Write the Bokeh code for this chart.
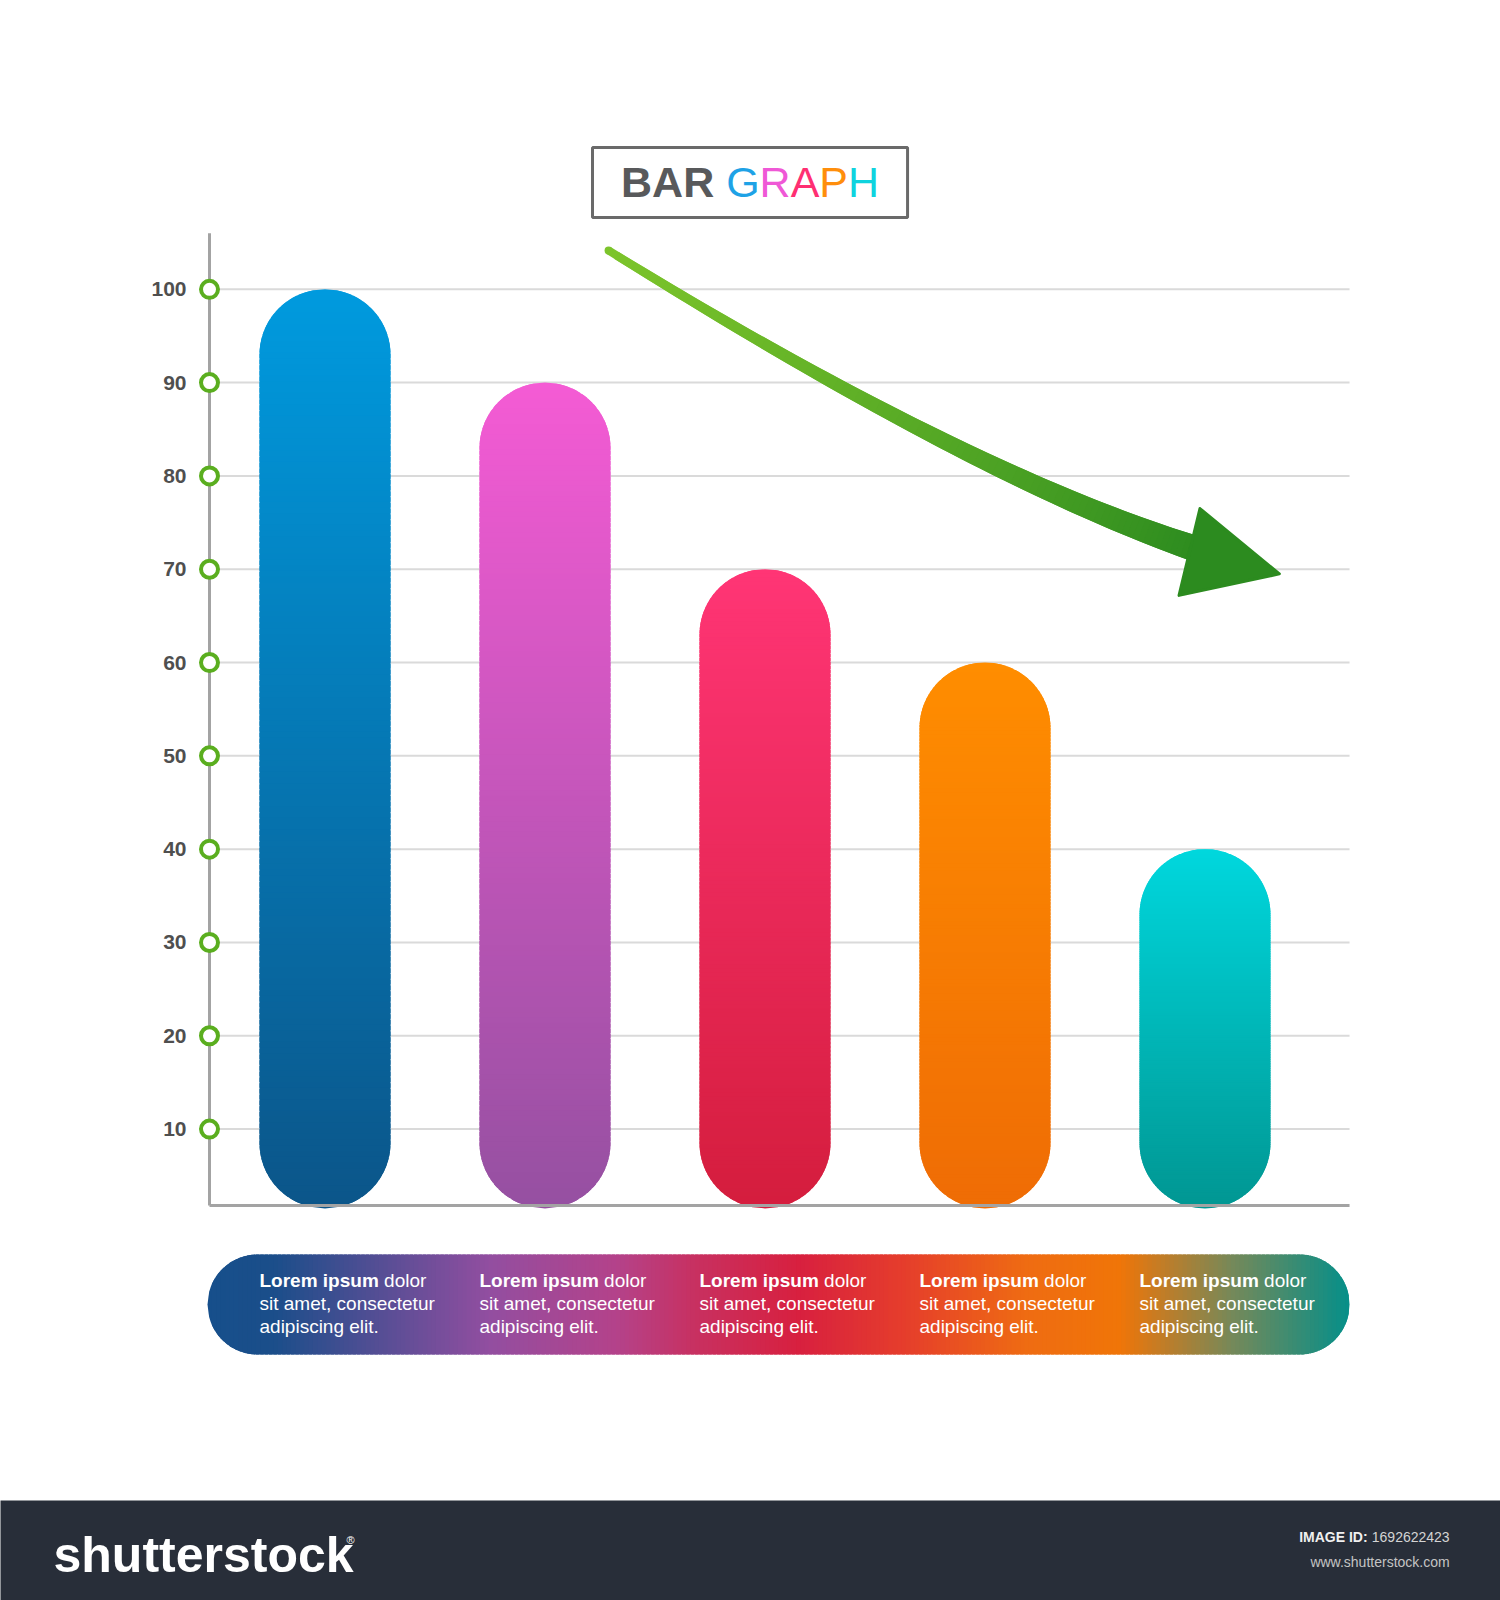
import numpy as np
from bokeh.plotting import figure
from bokeh.models import Range1d, ColumnDataSource
from bokeh.core.properties import value
from bokeh.embed import file_html
from bokeh.resources import INLINE

# ---------------- data ----------------
categories = ["Item 1", "Item 2", "Item 3", "Item 4", "Item 5"]
values = [100, 90, 70, 60, 40]
bar_top_colors = ["#009ade", "#f45bd4", "#ff3575", "#ff8d00", "#00d7dd"]
bar_bottom_colors = ["#0b5589", "#9550a1", "#d41d3d", "#ef6c05", "#019692"]
tick_values = [10, 20, 30, 40, 50, 60, 70, 80, 90, 100]
tick_labels = ["10", "20", "30", "40", "50", "60", "70", "80", "90", "100"]
title_bold = "BAR"
title_letters = ["G", "R", "A", "P", "H"]
title_letter_colors = ["#1ea2e6", "#ef58d6", "#ff2f72", "#ff8e0c", "#0fd3de"]
caption_bold = ["Lorem ipsum"] * 5
caption_rest = ["dolor"] * 5
caption_line2 = ["sit amet, consectetur"] * 5
caption_line3 = ["adipiscing elit."] * 5
footer_logo = "shutterstock"
footer_id_label = "IMAGE ID:"
footer_id = "1692622423"
footer_url = "www.shutterstock.com"

# ---------------- layout / scale ----------------
W, H = 1500, 1600
PX_X = 220.0          # pixels per category step
PX_Y = 9.331          # pixels per value unit
X0_PX = 324.5         # frame px of category 0
Y0_PX = 1221.9        # frame px (from top) of value 0

x_range = Range1d(-X0_PX / PX_X, (W - X0_PX) / PX_X)
y_range = Range1d((Y0_PX - H) / PX_Y, Y0_PX / PX_Y)

p = figure(width=W, height=H, x_range=x_range, y_range=y_range,
           output_backend="svg", toolbar_location=None,
           x_axis_type=None, y_axis_type=None, min_border=0,
           background_fill_color="white", border_fill_color="white",
           outline_line_color=None)
p.grid.visible = False

FONT = value("Liberation Sans")


def hex2rgb(h):
    h = h.lstrip("#")
    return np.array([int(h[i:i + 2], 16) for i in (0, 2, 4)], dtype=float)


def rgb2hex(c):
    c = np.clip(np.round(c), 0, 255).astype(int)
    return "#%02x%02x%02x" % tuple(c)


def mix(c0, c1, t):
    return rgb2hex(hex2rgb(c0) * (1 - t) + hex2rgb(c1) * t)


def multi_stop(stops, cols, t):
    for k in range(len(stops) - 1):
        if t <= stops[k + 1]:
            u = (t - stops[k]) / (stops[k + 1] - stops[k])
            return mix(cols[k], cols[k + 1], u)
    return cols[-1]


idx = np.arange(len(values), dtype=float)
AX_LEFT = -0.525
AX_RIGHT = 4.657
AXIS_Y = 1.8
BAR_BASE = 1.5
BAR_R_PX = 65.5
BAR_HW = BAR_R_PX / PX_X
BAR_RY = BAR_R_PX / PX_Y

# ---------------- gridlines ----------------
p.segment(x0=[AX_LEFT] * len(tick_values), x1=[AX_RIGHT] * len(tick_values),
          y0=tick_values, y1=tick_values, line_color="#dadada", line_width=2)

# ---------------- bars (vertical gradient pills) ----------------
bxs, bys, bcols = [], [], []
N = 160
for xc, v, ct, cb in zip(idx, values, bar_top_colors, bar_bottom_colors):
    y0, y1 = BAR_BASE, float(v)

    def hw(y):
        out = np.full_like(y, BAR_HW)
        top = y > y1 - BAR_RY
        bot = y < y0 + BAR_RY
        out[top] = BAR_HW * np.sqrt(np.clip(1 - ((y[top] - (y1 - BAR_RY)) / BAR_RY) ** 2, 0, 1))
        out[bot] = BAR_HW * np.sqrt(np.clip(1 - (((y0 + BAR_RY) - y[bot]) / BAR_RY) ** 2, 0, 1))
        return out

    edges = np.linspace(y0, y1, N + 1)
    step = edges[1] - edges[0]
    for k in range(N):
        a = edges[k]
        b = min(edges[k + 1] + 0.8 * step, y1)
        yy = np.linspace(a, b, 7)
        w = hw(yy)
        bxs.append(list(xc - w) + list((xc + w)[::-1]))
        bys.append(list(yy) + list(yy[::-1]))
        t = (0.5 * (a + b) - y0) / (y1 - y0)
        bcols.append(mix(cb, ct, t))
p.patches(xs=bxs, ys=bys, fill_color=bcols, line_color=None)

# axis lines
p.segment(x0=[AX_LEFT], x1=[AX_LEFT], y0=[AXIS_Y], y1=[106.0], line_color="#a3a3a3", line_width=3)
p.segment(x0=[AX_LEFT], x1=[AX_RIGHT], y0=[AXIS_Y], y1=[AXIS_Y], line_color="#a3a3a3", line_width=3)

# tick markers and labels
p.scatter(x=[AX_LEFT] * len(tick_values), y=tick_values, size=17, line_width=4,
          line_color="#5aae1f", fill_color="white")
p.text(x=[AX_LEFT] * len(tick_values), y=tick_values, text=tick_labels, x_offset=-23,
       text_align="right", text_baseline="middle", text_font=FONT,
       text_font_style="bold", text_font_size="21px", text_color="#4f4f4f")

# ---------------- title box ----------------
TB_L, TB_R, TB_B, TB_T = 1.216, 2.648, 107.7, 115.2
p.quad(left=[TB_L], right=[TB_R], bottom=[TB_B], top=[TB_T], fill_color="white",
       line_color="#6a6a6a", line_width=3)
TS = 43.0
bold_w = np.array([0.722, 0.722, 0.722]).sum() + 0.278
reg_w = [0.778, 0.722, 0.667, 0.667, 0.722]
total = (bold_w + sum(reg_w)) * TS
tcx = 0.5 * (TB_L + TB_R)
tcy = 0.5 * (TB_B + TB_T)
start = -total / 2
p.text(x=[tcx], y=[tcy], text=[title_bold], x_offset=start, text_align="left",
       text_baseline="middle", text_font=FONT, text_font_style="bold",
       text_font_size="43px", text_color="#58595b")
offs = start + bold_w * TS + np.concatenate([[0], np.cumsum(reg_w[:-1])]) * TS
tsrc = ColumnDataSource(dict(x=[tcx] * 5, y=[tcy] * 5, text=title_letters,
                             off=list(offs), col=title_letter_colors))
p.text(x="x", y="y", text="text", x_offset="off", text_color="col", source=tsrc,
       text_align="left", text_baseline="middle", text_font=FONT,
       text_font_size="43px")

# ---------------- trend arrow ----------------
A_P0 = (1.289, 104.16)
A_P1 = (2.939, 80.04)
A_P2 = (3.975, 72.05)
A_HEAD = [(3.977, 76.5), (4.338, 69.5), (3.882, 67.2)]
A_COL0, A_COL1 = "#7cc42b", "#2c8b1f"


def dpx(pt):
    return np.array([pt[0] * PX_X, -pt[1] * PX_Y])


P0, P1, P2 = dpx(A_P0), dpx(A_P1), dpx(A_P2)
NA = 90
ts = np.linspace(0, 1, NA + 1)
pts = np.array([(1 - t) ** 2 * P0 + 2 * (1 - t) * t * P1 + t ** 2 * P2 for t in ts])
der = np.array([2 * (1 - t) * (P1 - P0) + 2 * t * (P2 - P1) for t in ts])
nrm = np.stack([-der[:, 1], der[:, 0]], axis=1)
nrm /= np.linalg.norm(nrm, axis=1)[:, None]
wid = 8 + 18 * ts ** 1.2
L = pts + nrm * wid[:, None] / 2
R = pts - nrm * wid[:, None] / 2
axs, ays, acols = [], [], []
for k in range(NA):
    k2 = min(k + 2, NA)
    poly = [L[k], L[k2], R[k2], R[k]]
    axs.append([q[0] / PX_X for q in poly])
    ays.append([-q[1] / PX_Y for q in poly])
    acols.append(mix(A_COL0, A_COL1, ts[k]))
p.patches(xs=axs, ys=ays, fill_color=acols, line_color=None)
p.scatter(x=[A_P0[0]], y=[A_P0[1]], size=8, fill_color=A_COL0, line_color=None)
p.patch(x=[q[0] for q in A_HEAD], y=[q[1] for q in A_HEAD], fill_color=A_COL1,
        line_color=A_COL1, line_width=3, line_join="round")

# ---------------- caption band ----------------
BD_L, BD_R, BD_B, BD_T = -0.534, 4.657, -14.16, -3.44
band_stops = [0.0, 0.06, 0.25, 0.36, 0.43, 0.52, 0.61, 0.72, 0.80, 0.90, 1.0]
band_cols = ["#164f8b", "#1b4e8a", "#934ea0", "#b4428a", "#c83060", "#d8203f",
             "#e53d2c", "#ef6c12", "#f07508", "#74895a", "#068f89"]
ry = (BD_T - BD_B) / 2
rx = ry * PX_Y / PX_X
yc = (BD_T + BD_B) / 2


def bh(x):
    out = np.full_like(x, ry)
    lft = x < BD_L + rx
    rgt = x > BD_R - rx
    out[lft] = ry * np.sqrt(np.clip(1 - (((BD_L + rx) - x[lft]) / rx) ** 2, 0, 1))
    out[rgt] = ry * np.sqrt(np.clip(1 - ((x[rgt] - (BD_R - rx)) / rx) ** 2, 0, 1))
    return out


NB = 260
edges = np.linspace(BD_L, BD_R, NB + 1)
step = edges[1] - edges[0]
gxs, gys, gcols = [], [], []
for k in range(NB):
    a = edges[k]
    b = min(edges[k + 1] + 0.8 * step, BD_R)
    xx = np.linspace(a, b, 6)
    h = bh(xx)
    gxs.append(list(xx) + list(xx[::-1]))
    gys.append(list(yc - h) + list((yc + h)[::-1]))
    gcols.append(multi_stop(band_stops, band_cols, (0.5 * (a + b) - BD_L) / (BD_R - BD_L)))
p.patches(xs=gxs, ys=gys, fill_color=gcols, line_color=None)

CS = 19
cap_x = list(idx - BAR_HW)
line_y = [-6.23, -8.69, -11.15]
p.text(x=cap_x, y=[line_y[0]] * 5, text=caption_bold, text_font=FONT, text_font_style="bold",
       text_font_size="19px", text_color="white", text_baseline="middle", text_align="left")
p.text(x=cap_x, y=[line_y[0]] * 5, text=caption_rest, x_offset=(6.279 + 0.278) * CS,
       text_font=FONT, text_font_size="19px", text_color="white", text_baseline="middle",
       text_align="left")
p.text(x=cap_x, y=[line_y[1]] * 5, text=caption_line2, text_font=FONT,
       text_font_size="19px", text_color="white", text_baseline="middle", text_align="left")
p.text(x=cap_x, y=[line_y[2]] * 5, text=caption_line3, text_font=FONT,
       text_font_size="19px", text_color="white", text_baseline="middle", text_align="left")

# ---------------- footer ----------------
p.quad(left=[x_range.start - 1], right=[x_range.end + 1], bottom=[y_range.start - 5],
       top=[(Y0_PX - 1500) / PX_Y], fill_color="#282e39", line_color=None)
p.text(x=[-1.234], y=[-35.6], text=[footer_logo], text_font=FONT, text_font_style="bold",
       text_font_size="50px", text_color="white", text_baseline="middle", text_align="left")
p.text(x=[-1.234], y=[-34.0], text=["®"], x_offset=293, text_font=FONT,
       text_font_size="11px", text_color="white", text_baseline="middle", text_align="left")
p.text(x=[5.112], y=[-33.7], text=[footer_id], text_font=FONT, text_font_size="14px",
       text_color="#d4d4d4", text_baseline="middle", text_align="right")
p.text(x=[5.112], y=[-33.7], text=[footer_id_label], x_offset=-82, text_font=FONT,
       text_font_style="bold", text_font_size="14px", text_color="#f0f0f0",
       text_baseline="middle", text_align="right")
p.text(x=[5.112], y=[-36.4], text=[footer_url], text_font=FONT, text_font_size="14px",
       text_color="#c4c4c4", text_baseline="middle", text_align="right")

open("out.html", "w").write(file_html(p, INLINE))
